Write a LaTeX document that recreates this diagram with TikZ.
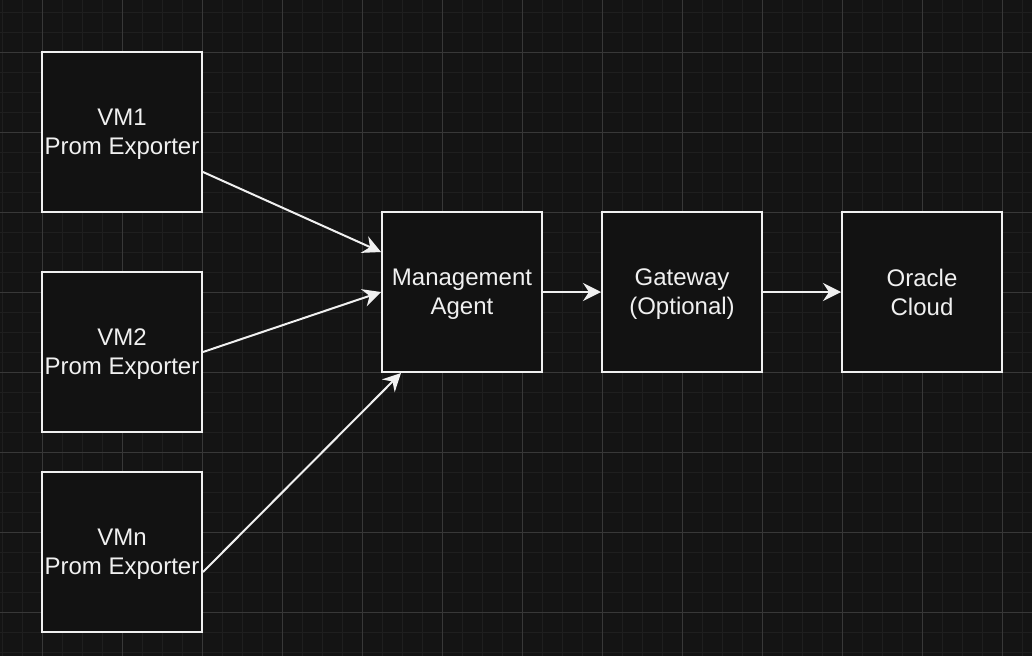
\documentclass[tikz,border=0pt]{standalone}
\usepackage{fontspec}
\setmainfont{Liberation Sans}
\usetikzlibrary{arrows.meta,calc}
\definecolor{bg}{HTML}{141414}
\definecolor{gridminor}{HTML}{1F1F1F}
\definecolor{gridmajor}{HTML}{383838}
\definecolor{fg}{HTML}{F0F0F0}
\definecolor{boxfill}{HTML}{121212}
\begin{document}
\begin{tikzpicture}[x=1pt,y=-1pt,
  box/.style={draw=fg, fill=boxfill, line width=2pt, minimum width=160pt, minimum height=160pt, inner sep=0pt, align=center, text=fg, text depth=0pt, font=\fontsize{24}{29}\selectfont},
  conn/.style={draw=fg, line width=2pt, -{Stealth[length=18pt,width=18pt,inset=6pt]}},
  minorline/.style={draw=gridminor, line width=1pt},
  majorline/.style={draw=gridmajor, line width=1pt}]
\fill[bg] (0,0) rectangle (1032,656);
\useasboundingbox (0,0) rectangle (1032,656);
\foreach \x in {2,22,...,1022} \draw[minorline] (\x,0) -- (\x,656);
\foreach \y in {12,32,...,652} \draw[minorline] (0,\y) -- (1032,\y);
\foreach \x in {42,122,...,1002} \draw[majorline] (\x,0) -- (\x,656);
\foreach \y in {52,132,...,612} \draw[majorline] (0,\y) -- (1032,\y);

\node[box] (vm1) at (122,132) {VM1\\Prom Exporter};
\node[box] (vm2) at (122,352) {VM2\\Prom Exporter};
\node[box] (vmn) at (122,552) {VMn\\Prom Exporter};
\node[box] (ma) at (462,292) {Management\\Agent};
\node[box] (gw) at (682,292) {Gateway\\(Optional)};
\node[box] (oc) at (922,292) {Oracle\\Cloud};

\draw[conn] ([yshift=-40pt]vm1.east) -- ([yshift=40pt]ma.west);
\draw[conn] (vm2.east) -- (ma.west);
\draw[conn] ([yshift=-20pt]vmn.east) -- ([xshift=20pt]ma.south west);
\draw[conn] (ma.east) -- (gw.west);
\draw[conn] (gw.east) -- (oc.west);
\end{tikzpicture}
\end{document}
